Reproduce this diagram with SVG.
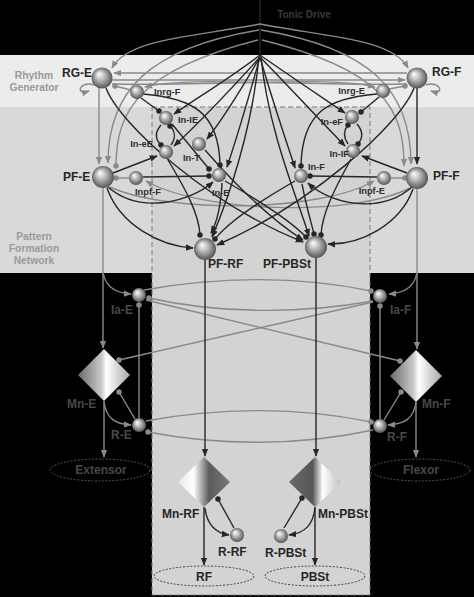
<svg xmlns="http://www.w3.org/2000/svg" width="474" height="597" viewBox="0 0 474 597">
<defs>
<style>
.d{fill:none;stroke:#262626;stroke-width:1.4}
.g{fill:none;stroke:#8a8a8a;stroke-width:1.4}
.t{font-family:"Liberation Sans",Arial,sans-serif;font-weight:bold}
.big{font-size:12px;fill:#262626}
.sm{font-size:9.3px;fill:#2e2e2e}
.band{font-size:10.3px;fill:#9a9a9a}
.blk{font-size:12px;fill:#484848}
.mid{font-size:12px;fill:#262626}
</style>
<radialGradient id="sph" cx="50%" cy="50%" r="55%" fx="35%" fy="30%">
<stop offset="0" stop-color="#ffffff"/>
<stop offset="0.3" stop-color="#cfcfcf"/>
<stop offset="0.75" stop-color="#7a7a7a"/>
<stop offset="1" stop-color="#454545"/>
</radialGradient>
<linearGradient id="dmE" x1="0" y1="0" x2="1" y2="0">
<stop offset="0" stop-color="#6a6a6a"/>
<stop offset="0.45" stop-color="#c8c8c8"/>
<stop offset="0.55" stop-color="#ffffff"/>
<stop offset="1" stop-color="#a8a8a8"/>
</linearGradient>
<linearGradient id="dmRF" x1="0" y1="0" x2="1" y2="0">
<stop offset="0" stop-color="#e8e8e8"/>
<stop offset="0.3" stop-color="#ffffff"/>
<stop offset="0.6" stop-color="#5a5a5a"/>
<stop offset="1" stop-color="#7a7a7a"/>
</linearGradient>
<linearGradient id="dmPB" x1="0" y1="0" x2="1" y2="0">
<stop offset="0" stop-color="#6a6a6a"/>
<stop offset="0.45" stop-color="#555555"/>
<stop offset="0.65" stop-color="#ffffff"/>
<stop offset="1" stop-color="#bdbdbd"/>
</linearGradient>
<marker id="ad" viewBox="0 0 10 10" refX="9" refY="5" markerWidth="8" markerHeight="8" orient="auto" markerUnits="userSpaceOnUse"><path d="M0,1 L10,5 L0,9 z" fill="#262626"/></marker>
<marker id="ag" viewBox="0 0 10 10" refX="9" refY="5" markerWidth="8" markerHeight="8" orient="auto" markerUnits="userSpaceOnUse"><path d="M0,1 L10,5 L0,9 z" fill="#8a8a8a"/></marker>
<marker id="dd" viewBox="0 0 10 10" refX="5" refY="5" markerWidth="5.5" markerHeight="5.5" markerUnits="userSpaceOnUse"><circle cx="5" cy="5" r="5" fill="#262626"/></marker>
<marker id="dg" viewBox="0 0 10 10" refX="5" refY="5" markerWidth="5.5" markerHeight="5.5" markerUnits="userSpaceOnUse"><circle cx="5" cy="5" r="5" fill="#8a8a8a"/></marker>
</defs>

<!-- background -->
<rect x="0" y="0" width="474" height="597" fill="#000000"/>
<rect x="0" y="55" width="474" height="52" fill="#ececec"/>
<rect x="0" y="107" width="474" height="166" fill="#d9d9d9"/>
<rect x="152" y="107" width="218" height="488" fill="#d3d3d3" stroke="#7a7a7a" stroke-width="1" stroke-dasharray="5,3"/>

<text class="t band" x="34" y="79" text-anchor="middle">Rhythm</text>
<text class="t band" x="34" y="91" text-anchor="middle">Generator</text>
<text class="t band" x="34" y="240" text-anchor="middle">Pattern</text>
<text class="t band" x="34" y="252" text-anchor="middle">Formation</text>
<text class="t band" x="34" y="264" text-anchor="middle">Network</text>
<text class="t" x="304" y="18" text-anchor="middle" font-size="10" fill="#3a3a3a">Tonic Drive</text>

<g id="connectors">
<!-- tonic drive trunk -->
<path class="d" d="M260,0 L260,58" stroke="#3a3a3a"/>
<!-- grey tonic drive -->
<path class="g" d="M260,24 C200,36 128,38 112,68" marker-end="url(#ag)"/>
<path class="g" d="M260,24 C320,36 392,38 408,68" marker-end="url(#ag)"/>
<path class="g" d="M259,30 C150,48 108,90 108,163" marker-end="url(#ag)"/>
<path class="g" d="M261,30 C370,48 411,90 411,164" marker-end="url(#ag)"/>
<path class="g" d="M258,40 C140,70 116,110 116,166" marker-end="url(#dg)"/>
<path class="g" d="M262,40 C385,70 404,110 404,166" marker-end="url(#ag)"/>
<path class="g" d="M99,88 L99,164" marker-end="url(#ag)"/>
<!-- RG mutual -->
<path class="g" d="M112,80 L405,80" marker-end="url(#ag)"/>
<path class="g" d="M407,73 L114,73" marker-end="url(#ag)"/>
<path class="g" d="M112,84 C240,86 330,76 375,87" marker-end="url(#ag)"/>
<path class="g" d="M407,84 C280,86 190,76 145,87" marker-end="url(#ag)"/>
<path class="g" d="M131,90 L115,86" marker-end="url(#dg)"/>
<path class="g" d="M389,89 L405,86" marker-end="url(#dg)"/>
<path class="g" d="M94,85 C80,80 74,96 89,91" marker-end="url(#ag)"/>
<path class="g" d="M426,85 C440,80 446,96 431,91" marker-end="url(#ag)"/>
<!-- PF mutual via Inpf -->
<path class="g" d="M410,188 C350,218 200,212 146,181" marker-end="url(#ag)"/>
<path class="g" d="M110,187 C170,214 320,212 374,181" marker-end="url(#ag)"/>
<path class="g" d="M129,178 L116,178" marker-end="url(#dg)"/>
<path class="g" d="M391,178 L405,178" marker-end="url(#dg)"/>

<!-- dark fan from tonic drive -->
<path class="d" d="M260,55 C230,78 200,96 174,114" marker-end="url(#ad)"/>
<path class="d" d="M260,57 C232,88 202,120 174,146" marker-end="url(#ad)"/>
<path class="d" d="M260,57 C242,88 226,115 207,139" marker-end="url(#ad)"/>
<path class="d" d="M260,57 C248,100 236,140 227,167" marker-end="url(#ad)"/>
<path class="d" d="M259,57 C252,130 228,200 212,237" marker-end="url(#ad)"/>
<path class="d" d="M261,57 C268,130 298,200 309,236" marker-end="url(#ad)"/>
<path class="d" d="M260,57 C272,100 286,140 295,168" marker-end="url(#ad)"/>
<path class="d" d="M260,57 C290,88 320,120 345,146" marker-end="url(#ad)"/>
<path class="d" d="M260,55 C290,76 320,96 345,113" marker-end="url(#ad)"/>
<path class="d" d="M417,88 L417,164" marker-end="url(#ad)"/>

<!-- Inrg connections -->
<path class="d" d="M143,94 C192,98 219,112 220,165" marker-end="url(#dd)"/>
<path class="d" d="M377,94 C328,98 302,112 301,166" marker-end="url(#dd)"/>
<path class="d" d="M141,98 L159,111" marker-end="url(#dd)"/>
<path class="d" d="M379,97 L361,112" marker-end="url(#dd)"/>

<!-- long crossings from RG -->
<path class="d" d="M106,88 C120,125 210,205 303,242" marker-end="url(#ad)"/>
<path class="d" d="M414,88 C400,125 310,205 217,245" marker-end="url(#ad)"/>

<!-- In-IE / In-eE -->
<path class="d" d="M161,125 C155,132 155,139 161,145" marker-end="url(#dd)"/>
<path class="d" d="M171,145 C176,138 175,131 170,126" marker-end="url(#dd)"/>
<path class="d" d="M172,124 L209,169" marker-end="url(#dd)"/>
<path class="d" d="M168,160 C186,190 199,214 200,235" marker-end="url(#dd)"/>
<!-- In-eF / In-IF -->
<path class="d" d="M357,124 C363,131 363,138 358,144" marker-end="url(#dd)"/>
<path class="d" d="M348,144 C343,137 344,130 348,125" marker-end="url(#dd)"/>
<path class="d" d="M351,159 C334,190 322,214 321,235" marker-end="url(#dd)"/>

<!-- In-T, In-E, In-F -->
<path class="d" d="M205,150 C240,190 275,222 303,240" marker-end="url(#ad)"/>
<path class="d" d="M225,181 C258,200 290,220 306,237" marker-end="url(#dd)"/>
<path class="d" d="M295,181 C262,200 230,220 215,239" marker-end="url(#dd)"/>
<path class="d" d="M222,183 C221,205 217,222 211,233" marker-end="url(#ad)"/>
<path class="d" d="M302,184 C306,205 311,222 314,234" marker-end="url(#dd)"/>

<!-- PF-E outputs -->
<path class="d" d="M113,173 L157,156" marker-end="url(#ad)"/>
<path class="d" d="M108,187 C140,215 190,202 213,182" marker-end="url(#ad)"/>
<path class="d" d="M107,188 C120,225 160,246 193,248" marker-end="url(#ad)"/>
<path class="d" d="M143,177 L209,176" marker-end="url(#dd)"/>
<!-- PF-F outputs -->
<path class="d" d="M407,173 L362,156" marker-end="url(#ad)"/>
<path class="d" d="M412,187 C380,215 330,204 308,183" marker-end="url(#ad)"/>
<path class="d" d="M413,189 C400,225 360,245 328,244" marker-end="url(#ad)"/>
<path class="d" d="M377,177 L310,176" marker-end="url(#dd)"/>

<!-- lower grey -->
<path class="g" d="M103,188 L103,348" marker-end="url(#ag)"/>
<path class="g" d="M103,272 C105,286 114,293 131,294" marker-end="url(#ag)"/>
<path class="g" d="M417,189 L417,349" marker-end="url(#ag)"/>
<path class="g" d="M417,272 C415,286 406,293 389,294" marker-end="url(#ag)"/>
<path class="g" d="M104,401 L104,457" marker-end="url(#ag)"/>
<path class="g" d="M416,402 L416,457" marker-end="url(#ag)"/>
<path class="g" d="M104,402 C106,418 115,424 131,425" marker-end="url(#ag)"/>
<path class="g" d="M416,402 C414,418 405,424 388,425" marker-end="url(#ag)"/>
<path class="g" d="M135,419 L119,392" marker-end="url(#dg)"/>
<path class="g" d="M384,420 L401,392" marker-end="url(#dg)"/>
<path class="g" d="M139,418 L139,305" marker-end="url(#dg)"/>
<path class="g" d="M380,419 L380,306" marker-end="url(#dg)"/>
<path class="g" d="M144,290 C220,276 300,276 371,291" marker-end="url(#dg)"/>
<path class="g" d="M373,301 C300,314 220,314 149,298" marker-end="url(#dg)"/>
<path class="g" d="M146,300 L400,361" marker-end="url(#dg)"/>
<path class="g" d="M373,302 L119,360" marker-end="url(#dg)"/>
<path class="g" d="M146,421 C220,407 300,407 371,422" marker-end="url(#dg)"/>
<path class="g" d="M373,430 C300,446 220,446 148,432" marker-end="url(#dg)"/>

<!-- center dark lower -->
<path class="d" d="M205,260 L205,456" marker-end="url(#ad)"/>
<path class="d" d="M316,258 L316,456" marker-end="url(#ad)"/>
<path class="d" d="M204,507 L204,565" marker-end="url(#ad)"/>
<path class="d" d="M315,507 L315,565" marker-end="url(#ad)"/>
<path class="d" d="M205,508 C207,525 215,533 229,535" marker-end="url(#ad)"/>
<path class="d" d="M234,528 L218,499" marker-end="url(#dd)"/>
<path class="d" d="M315,508 C313,525 305,533 289,535" marker-end="url(#ad)"/>
<path class="d" d="M284,528 L302,498" marker-end="url(#dd)"/>
</g>

<!-- nodes -->
<g id="RG-E"><circle cx="102" cy="78" r="10.5" fill="url(#sph)"/><text class="t big" x="62" y="77">RG-E</text></g>
<g id="RG-F"><circle cx="417" cy="78" r="10.5" fill="url(#sph)"/><text class="t big" x="432" y="76">RG-F</text></g>
<g id="Inrg-F"><circle cx="137" cy="92" r="7" fill="url(#sph)"/><text class="t sm" x="154" y="95">Inrg-F</text></g>
<g id="Inrg-E"><circle cx="383" cy="91" r="7" fill="url(#sph)"/><text class="t sm" x="365" y="94" text-anchor="end">Inrg-E</text></g>
<g id="In-IE"><circle cx="166" cy="118" r="7" fill="url(#sph)"/><text class="t sm" x="178" y="123">In-IE</text></g>
<g id="In-eE"><circle cx="166" cy="152" r="7" fill="url(#sph)"/><text class="t sm" x="153" y="147" text-anchor="end">In-eE</text></g>
<g id="In-T"><circle cx="199" cy="144" r="7" fill="url(#sph)"/><text class="t sm" x="183" y="161">In-T</text></g>
<g id="In-E"><circle cx="219" cy="175" r="7" fill="url(#sph)"/><text class="t sm" x="212" y="196">In-E</text></g>
<g id="PF-E"><circle cx="103" cy="177" r="11" fill="url(#sph)"/><text class="t big" x="63" y="181">PF-E</text></g>
<g id="Inpf-F"><circle cx="136" cy="178" r="7" fill="url(#sph)"/><text class="t sm" x="135" y="195">Inpf-F</text></g>
<g id="In-eF"><circle cx="352" cy="117" r="7" fill="url(#sph)"/><text class="t sm" x="343" y="125" text-anchor="end">In-eF</text></g>
<g id="In-IF"><circle cx="353" cy="151" r="7" fill="url(#sph)"/><text class="t sm" x="349" y="157" text-anchor="end">In-IF</text></g>
<g id="In-F"><circle cx="301" cy="176" r="7" fill="url(#sph)"/><text class="t sm" x="308" y="170">In-F</text></g>
<g id="Inpf-E"><circle cx="384" cy="178" r="7" fill="url(#sph)"/><text class="t sm" x="385" y="194" text-anchor="end">Inpf-E</text></g>
<g id="PF-F"><circle cx="417" cy="178" r="11" fill="url(#sph)"/><text class="t big" x="433" y="180">PF-F</text></g>
<g id="PF-RF"><circle cx="205" cy="249" r="11" fill="url(#sph)"/><text class="t big" x="208" y="268">PF-RF</text></g>
<g id="PF-PBSt"><circle cx="316" cy="247" r="11" fill="url(#sph)"/><text class="t big" x="311" y="268" text-anchor="end">PF-PBSt</text></g>

<g id="Ia-E"><circle cx="139" cy="295" r="7" fill="url(#sph)"/><text class="t blk" x="111" y="314">Ia-E</text></g>
<g id="Ia-F"><circle cx="380" cy="296" r="7" fill="url(#sph)"/><text class="t blk" x="390" y="314">Ia-F</text></g>
<g id="Mn-E"><path d="M104,349 L130,375 L104,401 L78,375 Z" fill="url(#dmE)"/><text class="t blk" x="67" y="408">Mn-E</text></g>
<g id="Mn-F"><path d="M416,350 L442,376 L416,402 L390,376 Z" fill="url(#dmE)"/><text class="t blk" x="422" y="408">Mn-F</text></g>
<g id="R-E"><circle cx="139" cy="425" r="7" fill="url(#sph)"/><text class="t blk" x="111" y="439">R-E</text></g>
<g id="R-F"><circle cx="380" cy="426" r="7" fill="url(#sph)"/><text class="t blk" x="387" y="441">R-F</text></g>
<g id="Extensor"><ellipse cx="100" cy="470" rx="50" ry="11" fill="none" stroke="#555" stroke-width="1" stroke-dasharray="2,1.5"/><text class="t blk" x="101" y="474" text-anchor="middle">Extensor</text></g>
<g id="Flexor"><ellipse cx="420" cy="470" rx="50" ry="11" fill="none" stroke="#555" stroke-width="1" stroke-dasharray="2,1.5"/><text class="t blk" x="421" y="474" text-anchor="middle">Flexor</text></g>

<g id="Mn-RF"><path d="M204,457 L230,482 L204,507 L178,482 Z" fill="url(#dmRF)"/><text class="t mid" x="162" y="518">Mn-RF</text></g>
<g id="Mn-PBSt"><path d="M315,457 L341,482 L315,507 L289,482 Z" fill="url(#dmPB)"/><text class="t mid" x="318" y="518">Mn-PBSt</text></g>
<g id="R-RF"><circle cx="237" cy="535" r="7" fill="url(#sph)"/><text class="t mid" x="218" y="556">R-RF</text></g>
<g id="R-PBSt"><circle cx="281" cy="536" r="7" fill="url(#sph)"/><text class="t mid" x="265" y="557">R-PBSt</text></g>
<g id="RF"><ellipse cx="204" cy="576" rx="50" ry="10" fill="none" stroke="#444" stroke-width="1" stroke-dasharray="2,1.5"/><text class="t mid" x="204" y="581" text-anchor="middle">RF</text></g>
<g id="PBSt"><ellipse cx="315" cy="576" rx="50" ry="10" fill="none" stroke="#444" stroke-width="1" stroke-dasharray="2,1.5"/><text class="t mid" x="315" y="581" text-anchor="middle">PBSt</text></g>
</svg>
